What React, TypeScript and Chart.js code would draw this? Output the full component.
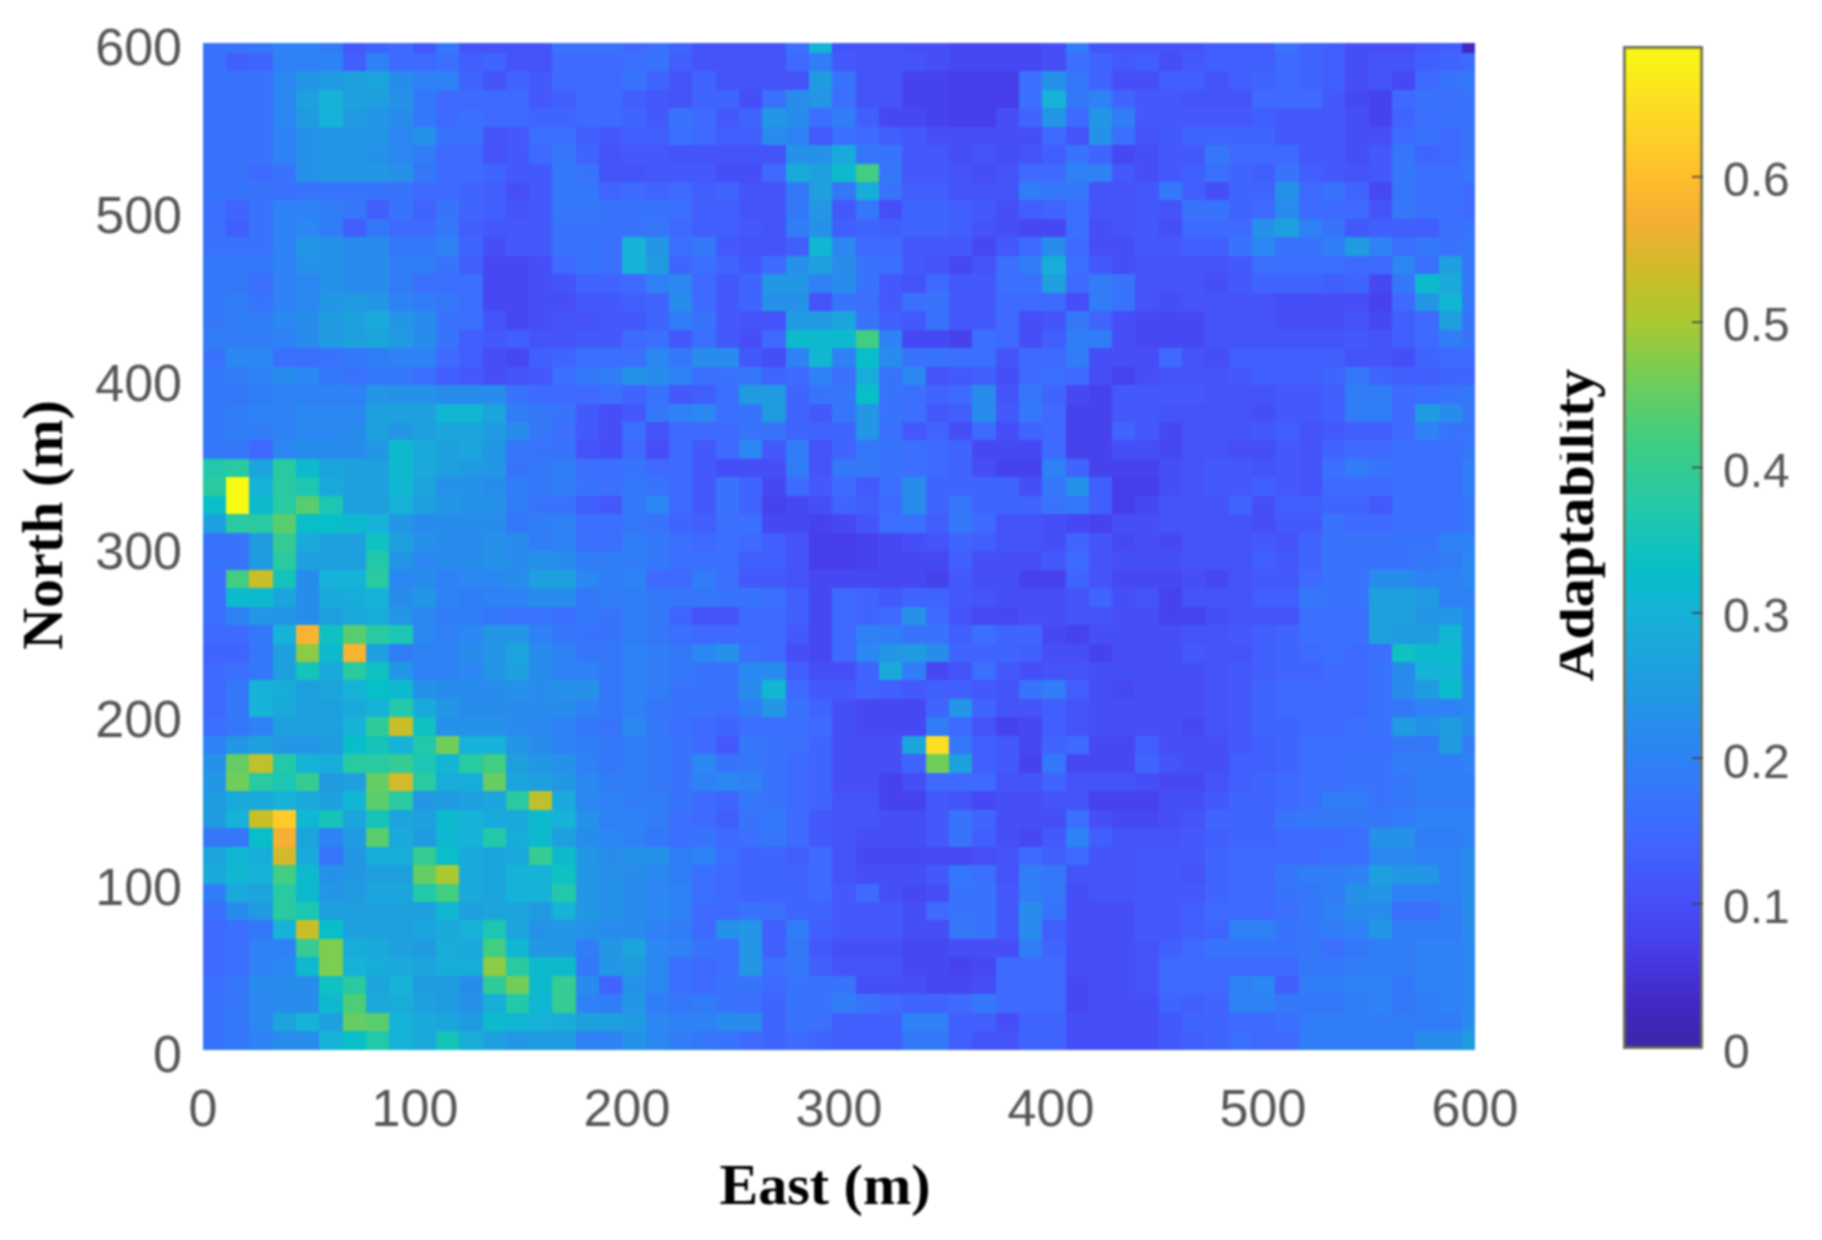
import React, { useEffect, useRef } from "react";
import { Chart, registerables } from "chart.js";

Chart.register(...registerables);

// Adaptability in hundredths; rows run north (top) to south, columns west to east.
const r00 = [17,17,18,20,20,19,12,14,15,12,18,11,11,11,11,17,17,17, 15,16,14,11,11,11,11,16,30,11,11,11,10,10,9,9,9,9,10, 19,11,11,11,11,11,13,13,13,17,14,13,10,10,10,12,13,3];
const r01 = [17,13,14,20,20,20,13,20,15,15,16,13,14,11,11,15,15,15, 16,17,13,11,11,11,11,15,19,12,11,11,11,10,9,9,9,9,10, 16,14,12,13,10,12,13,13,13,15,14,13,10,11,11,13,14,15];
const r02 = [17,17,17,21,24,25,26,27,22,20,20,14,11,14,12,15,15,15, 17,14,11,14,11,11,11,11,25,17,11,11,8,8,7,7,7,16,23, 18,14,10,10,13,13,11,13,14,15,14,13,10,11,9,15,17,18];
const r03 = [17,17,17,21,26,30,26,26,23,18,15,15,15,15,12,13,15,15, 13,12,11,14,14,10,16,22,24,16,11,11,8,8,7,7,7,16,30, 18,20,14,12,12,11,11,11,15,15,15,12,9,8,15,17,16,17];
const r04 = [17,17,17,21,25,30,25,24,22,18,15,16,15,15,14,14,15,15, 14,12,17,15,12,14,24,22,16,19,13,9,9,8,7,7,10,14,24, 15,24,19,12,12,12,12,12,13,12,12,12,10,8,14,16,17,17];
const r05 = [17,17,17,20,23,24,24,24,21,23,17,17,11,12,16,16,13,12, 13,13,16,15,13,13,22,20,12,16,15,13,12,10,10,10,10,10,15, 11,23,16,11,12,14,14,14,14,12,12,12,10,10,15,17,15,17];
const r06 = [17,17,17,20,23,24,24,23,21,19,15,15,11,12,15,18,14,11, 12,12,11,11,11,11,11,23,23,28,18,17,12,12,10,11,10,11,13, 17,14,9,10,12,12,18,15,15,15,12,12,10,12,18,14,15,17];
const r07 = [17,17,15,17,23,24,24,24,23,18,15,15,14,12,12,18,17,11, 11,12,12,12,10,10,15,28,26,32,42,18,12,12,11,10,11,15,15, 20,20,12,10,12,13,16,14,13,17,13,12,11,12,18,16,16,18];
const r08 = [17,17,17,16,17,17,17,17,17,15,15,14,13,10,12,18,18,14, 15,14,15,13,14,11,11,18,26,18,29,17,13,13,11,11,11,19,18, 18,11,11,12,18,13,10,14,14,23,15,17,14,9,18,16,16,15];
const r09 = [16,14,17,20,20,19,18,13,17,14,17,14,13,11,12,18,18,17, 17,17,16,13,13,11,11,18,24,12,18,10,14,14,13,12,10,13,14, 16,11,11,12,11,17,17,14,15,22,15,15,15,11,18,16,16,15];
const r10 = [16,13,17,20,21,19,13,18,15,15,18,13,12,12,12,17,17,17, 17,18,15,13,13,12,11,19,23,13,14,13,14,14,13,11,10,9,9, 16,10,11,12,10,15,15,15,23,26,20,17,12,13,13,13,16,17];
const r11 = [17,17,17,20,24,23,22,22,18,18,20,14,10,12,12,17,17,16, 30,24,16,18,12,11,11,13,31,21,15,15,12,12,12,9,12,15,22, 15,10,10,12,12,13,13,17,21,17,17,19,25,20,16,18,17,18];
const r12 = [18,18,18,20,23,23,22,22,19,19,17,13,9,9,10,15,17,16, 30,25,14,16,14,12,15,23,26,22,17,16,12,11,9,11,16,19,29, 16,12,10,11,11,11,11,12,16,16,16,16,15,15,21,16,26,18];
const r13 = [18,18,16,20,21,23,22,22,19,16,16,16,9,9,10,11,14,14, 15,20,21,15,12,14,24,24,20,22,17,12,11,15,12,12,16,16,26, 15,19,17,11,11,11,10,12,14,14,14,13,14,9,18,32,28,18];
const r14 = [18,19,17,20,21,24,25,24,20,19,18,16,9,9,10,10,12,12, 13,14,22,15,12,14,23,23,11,17,16,12,16,17,12,12,15,15,15, 10,19,17,11,10,11,11,11,11,10,10,10,10,8,15,24,31,18];
const r15 = [18,19,19,21,22,25,26,28,24,22,17,16,11,9,10,11,11,12, 12,14,19,17,12,11,11,25,25,27,17,13,12,17,12,12,15,10,11, 18,14,10,9,9,9,11,11,11,10,10,10,11,9,13,15,26,17];
const r16 = [19,19,19,20,22,25,26,27,25,22,17,13,12,13,11,11,12,12, 15,16,12,16,12,10,15,32,32,32,42,20,9,9,8,16,15,10,13, 19,19,10,9,9,9,11,11,11,11,11,11,12,11,13,15,19,17];
const r17 = [17,21,21,16,16,17,18,19,20,20,15,13,10,9,13,14,16,16, 16,21,18,22,22,12,10,20,31,20,33,22,17,17,16,16,11,15,15, 19,10,10,10,15,11,10,13,13,13,13,13,11,11,10,14,15,15];
const r18 = [18,19,20,22,21,18,17,18,18,16,13,12,10,11,12,16,18,19, 23,22,20,16,17,18,14,15,20,16,29,17,21,11,12,13,10,15,16, 15,10,8,10,11,11,11,12,13,13,13,14,18,14,13,13,14,14];
const r19 = [18,18,19,20,20,20,20,24,23,23,22,22,22,17,15,15,15,16, 14,17,12,13,16,25,25,14,17,18,33,17,16,14,15,22,11,18,14, 9,8,12,12,12,12,11,11,11,12,12,13,19,19,15,16,17,18];
const r20 = [18,19,20,20,21,21,21,26,26,26,31,31,27,19,18,17,12,10, 12,18,20,21,16,17,25,14,12,18,24,17,16,12,13,22,12,18,15, 8,8,12,12,11,11,11,11,10,12,12,13,19,19,15,25,22,18];
const r21 = [18,19,19,20,21,21,22,26,24,26,27,27,25,22,18,16,12,10, 16,11,15,15,15,17,17,14,14,14,24,16,12,14,10,15,10,14,15, 8,8,14,12,9,11,11,11,12,13,11,12,13,13,15,20,17,17];
const r22 = [18,18,15,21,22,22,22,24,32,28,26,27,24,18,17,17,11,10, 15,10,15,12,15,21,12,19,11,14,18,17,16,15,14,9,9,9,15, 8,8,10,10,9,11,11,10,10,12,11,14,15,15,16,16,16,18];
const r23 = [37,38,27,38,32,27,26,26,32,28,26,25,24,17,18,19,16,16, 17,15,15,12,10,10,10,19,11,18,18,17,16,15,14,10,8,8,20, 14,8,8,8,10,11,12,12,11,12,11,16,19,17,16,16,16,19];
const r24 = [38,69,30,38,36,28,26,26,31,27,23,23,22,19,18,19,17,16, 18,17,15,12,17,14,9,15,12,15,12,16,22,14,14,14,14,10,18, 23,13,7,7,10,11,12,12,13,12,11,15,15,15,16,16,16,19];
const r25 = [33,69,32,38,44,36,26,26,30,26,24,23,23,19,17,17,13,12, 18,21,15,12,17,14,8,9,10,14,13,15,22,14,18,14,14,14,17, 18,13,7,9,11,11,11,14,10,13,13,14,14,12,16,16,16,18];
const r26 = [26,38,38,44,33,33,32,30,24,22,22,22,22,18,19,20,16,16, 18,17,14,13,16,16,9,9,8,9,11,16,16,13,18,15,11,11,10, 9,8,10,10,11,11,11,11,10,12,12,17,15,15,16,16,16,18];
const r27 = [17,17,25,40,28,26,26,34,26,23,22,22,23,22,19,20,16,16, 19,18,16,15,16,15,13,11,7,7,8,9,10,11,14,13,11,11,10, 14,11,9,10,9,11,11,11,12,11,14,17,17,17,17,17,20,20];
const r28 = [17,17,25,38,26,26,26,37,24,21,22,22,23,22,23,22,19,19, 19,18,16,16,16,13,13,11,7,7,8,9,9,9,13,10,10,10,12, 15,11,10,10,10,11,11,11,13,12,14,17,17,17,17,18,19,21];
const r29 = [16,42,53,35,22,30,30,38,21,22,20,21,21,22,26,26,21,19, 20,15,15,19,16,12,12,11,9,9,9,9,9,8,12,10,10,8,8, 14,11,9,9,9,10,9,11,12,12,15,17,17,22,22,20,20,21];
const r30 = [16,32,32,27,22,28,29,30,22,24,20,19,20,20,22,22,18,19, 19,18,18,18,17,17,16,13,9,15,14,12,14,14,12,11,10,10,10, 11,14,10,11,8,11,11,11,13,13,18,17,17,26,26,25,20,20];
const r31 = [16,20,24,24,22,26,28,29,24,21,19,19,18,17,17,16,18,17, 19,18,14,11,11,15,15,13,9,15,14,15,23,15,11,9,9,10,10, 11,11,10,10,8,8,10,11,11,11,16,16,16,26,26,24,24,21];
const r32 = [15,15,18,30,58,34,44,38,36,21,20,21,24,24,20,18,17,17, 19,18,16,15,15,15,15,12,9,15,20,19,17,17,13,16,14,14,9, 8,10,10,10,10,11,11,12,13,14,16,16,16,26,25,25,31,21];
const r33 = [14,14,18,26,48,32,58,26,19,20,20,22,24,27,22,20,18,18, 20,19,18,21,23,16,15,10,9,15,21,24,25,22,14,14,14,13,10, 10,8,10,10,10,12,11,11,13,14,15,16,15,16,34,32,32,21];
const r34 = [15,16,18,26,35,28,38,34,24,20,20,21,24,26,22,20,20,18, 20,19,18,17,17,21,22,13,10,10,14,28,19,9,11,16,12,10,11, 11,10,10,10,10,10,11,12,13,14,14,15,15,17,22,30,31,20];
const r35 = [15,18,30,29,26,27,30,33,32,23,22,22,22,23,22,23,23,18, 20,19,17,17,17,22,31,15,12,12,14,13,12,13,13,12,11,17,19, 13,10,9,10,10,10,11,12,14,15,15,15,15,17,22,25,32,21];
const r36 = [15,18,30,28,26,26,28,30,37,28,24,22,22,22,22,22,20,18, 20,18,17,17,16,19,24,17,14,10,9,9,9,14,24,14,11,11,13, 11,10,10,10,10,10,11,12,14,15,15,15,15,17,18,20,20,21];
const r37 = [16,18,20,26,26,26,30,39,53,34,23,23,23,22,21,20,18,17, 21,18,16,15,14,16,16,16,15,10,9,9,9,19,15,11,8,9,13, 11,10,10,10,10,9,11,12,14,14,15,15,16,17,25,23,25,22];
const r38 = [20,24,26,24,24,25,33,35,30,37,46,30,30,24,22,20,19,18, 19,18,17,15,12,18,17,16,14,10,10,10,27,65,18,13,12,9,14, 15,9,9,13,10,10,10,12,13,14,16,16,16,16,18,18,25,19];
const r39 = [23,45,52,37,30,29,38,38,40,36,31,38,42,26,24,23,20,18, 19,18,17,21,17,18,17,15,14,10,10,10,14,46,26,13,12,8,18, 9,9,9,14,11,10,10,13,13,14,16,16,17,17,19,19,19,20];
const r40 = [24,46,38,36,40,25,26,45,54,38,29,29,45,27,26,24,21,19, 19,18,17,20,21,20,17,15,14,10,10,8,10,15,15,15,11,11,14, 11,11,11,10,9,9,11,13,14,15,16,16,17,17,18,19,19,19];
const r41 = [25,28,28,30,28,26,31,44,38,24,25,26,27,38,52,28,21,20, 19,19,17,15,14,18,17,15,14,11,11,8,8,12,11,9,10,10,11, 11,8,8,8,10,10,12,14,14,15,16,19,19,17,18,19,19,19];
const r42 = [25,30,53,62,31,35,27,35,27,26,32,30,28,28,32,30,23,20, 20,19,16,15,13,17,18,15,12,11,11,10,10,12,17,14,10,10,10, 16,10,9,9,10,11,14,14,14,17,18,18,18,18,19,20,20,20];
const r43 = [18,18,33,57,27,20,25,44,28,25,31,30,37,29,32,26,22,21, 20,18,16,17,15,16,18,15,12,11,10,10,10,12,17,13,10,9,12, 20,13,11,11,11,12,13,14,14,15,15,15,16,23,23,19,19,20];
const r44 = [27,31,29,54,28,17,24,29,29,40,33,28,27,28,40,32,24,22, 23,23,19,20,16,14,14,13,15,11,9,9,9,9,9,10,11,15,13, 15,11,11,12,12,12,14,15,15,15,15,16,16,21,21,20,20,22];
const r45 = [28,31,30,42,32,23,24,26,26,45,50,28,27,30,30,34,24,23, 22,21,19,16,15,14,14,14,15,11,10,10,10,12,18,16,11,19,18, 11,11,11,12,12,11,14,15,15,18,19,19,20,26,24,24,20,22];
const r46 = [19,28,27,38,32,24,25,27,27,37,42,28,27,30,30,37,24,23, 22,21,20,16,15,14,14,14,15,12,15,10,9,10,17,17,12,19,18, 10,11,11,12,12,12,14,15,15,17,18,19,23,24,20,20,20,22];
const r47 = [16,22,25,38,36,26,26,26,26,26,31,26,27,27,25,30,24,23, 22,21,20,15,15,17,16,14,14,12,12,12,10,15,17,17,12,22,17, 10,10,10,12,12,13,15,15,15,16,18,20,22,22,16,16,19,22];
const r48 = [15,16,18,30,53,33,26,26,26,27,28,30,36,27,23,24,23,22, 22,20,19,15,23,24,13,19,13,12,12,12,10,10,18,17,12,22,13, 10,10,10,12,12,13,14,20,20,17,18,19,20,24,19,19,19,22];
const r49 = [15,16,20,20,40,47,29,28,26,25,29,28,42,31,24,24,19,24, 27,21,20,17,16,24,13,18,12,10,10,10,9,9,10,10,10,19,14, 10,10,10,11,13,15,17,17,17,17,18,16,18,19,19,20,20,21];
const r50 = [15,16,20,21,32,47,30,29,28,27,29,29,48,38,32,32,18,24, 25,21,16,15,16,24,16,18,13,11,11,11,9,9,8,9,15,15,15, 10,10,10,11,15,15,15,15,15,15,18,18,19,19,19,20,20,21];
const r51 = [16,18,22,22,22,34,38,27,30,25,25,22,39,46,32,40,22,14, 23,21,16,15,17,17,15,17,17,17,10,10,10,9,9,10,15,15,15, 9,10,10,11,15,15,15,20,21,13,19,19,20,20,18,20,20,21];
const r52 = [17,18,21,22,22,32,43,28,29,26,25,23,29,37,31,40,20,19, 24,19,18,19,17,16,14,17,17,19,17,15,14,14,15,18,15,15,15, 9,10,10,10,14,13,14,20,20,18,18,18,19,20,18,19,20,21];
const r53 = [17,18,21,27,30,26,45,44,30,28,27,25,32,31,30,29,26,26, 25,21,20,20,22,22,14,17,16,13,13,13,20,20,13,13,10,14,14, 10,10,10,10,12,14,14,15,15,16,19,19,19,19,19,19,19,22];
const r54 = [17,18,20,22,22,30,33,37,30,28,35,29,26,24,25,25,20,20, 23,21,19,18,17,15,14,15,14,13,13,13,18,18,13,11,11,14,14, 10,10,10,10,12,13,14,16,15,15,19,19,19,19,19,22,22,25];

const heatRows = [r00,r01,r02,r03,r04,r05,r06,r07,r08,r09,r10,r11,r12,r13,r14,r15,r16,r17,r18,r19,r20,r21,r22,r23,r24,r25,r26,r27,r28,r29,r30,r31,r32,r33,r34,r35,r36,r37,r38,r39,r40,r41,r42,r43,r44,r45,r46,r47,r48,r49,r50,r51,r52,r53,r54];

const cellMetres = 11;
const axisMax = 600;
const colourMax = 0.69;
const colourTicks = [0.1, 0.2, 0.3, 0.4, 0.5, 0.6];

const mapValues = [0, 0.03, 0.07, 0.1, 0.15, 0.2, 0.25, 0.3, 0.33, 0.37, 0.42, 0.47, 0.5, 0.53, 0.57, 0.6, 0.65, 0.69];
const mapColours = [
  [60, 38, 165], [66, 40, 195], [70, 62, 232], [70, 78, 248], [62, 106, 255], [46, 130, 245], [32, 155, 225],
  [22, 178, 215], [8, 190, 200], [35, 200, 170], [65, 205, 130], [125, 205, 80], [170, 200, 50],
  [200, 190, 40], [245, 175, 50], [255, 190, 45], [252, 222, 35], [248, 250, 20],
];

function colourOf(v: number): string {
  let i = 0;
  while (i < mapValues.length - 2 && v > mapValues[i + 1]) i++;
  const t = Math.min(1, Math.max(0, (v - mapValues[i]) / (mapValues[i + 1] - mapValues[i])));
  const c = mapColours[i].map((a, k) => Math.round(a + (mapColours[i + 1][k] - a) * t));
  return `rgb(${c[0]},${c[1]},${c[2]})`;
}

const cellSprites = new Map<number, HTMLCanvasElement>();
function spriteOf(hundredths: number): HTMLCanvasElement {
  let s = cellSprites.get(hundredths);
  if (!s) {
    s = document.createElement("canvas");
    s.width = 24;
    s.height = 19;
    const g = s.getContext("2d")!;
    g.fillStyle = colourOf(hundredths / 100);
    g.fillRect(0, 0, 24, 19);
    cellSprites.set(hundredths, s);
  }
  return s;
}

const sansFont = "'Liberation Sans', Arial, sans-serif";
const serifFont = "'Liberation Serif', 'Times New Roman', serif";
const tickGrey = "#555555";

function caption(chart: Chart, text: string, x: number, y: number, rot: number) {
  const g = chart.ctx;
  g.save();
  g.translate(x, y);
  g.rotate(rot);
  g.font = `bold 58px ${serifFont}`;
  g.fillStyle = "#000";
  g.textAlign = "center";
  g.textBaseline = "middle";
  g.fillText(text, 0, 0);
  g.restore();
}

export default function App() {
  const mapRef = useRef<HTMLCanvasElement>(null);
  const barRef = useRef<HTMLCanvasElement>(null);

  useEffect(() => {
    const cells: { x: number; y: number; v: number }[] = [];
    heatRows.forEach((row, t) => {
      const k = heatRows.length - 1 - t;
      row.forEach((v, c) => {
        cells.push({ x: (c + 0.5) * cellMetres, y: (k + 0.5) * cellMetres, v });
      });
    });

    const map = new Chart(mapRef.current!, {
      type: "scatter",
      data: {
        datasets: [
          {
            data: cells as any,
            showLine: false,
            clip: 0 as any,
            pointRadius: 12,
            pointStyle: (ctx: any) => spriteOf(ctx.raw ? ctx.raw.v : 0),
          } as any,
        ],
      },
      options: {
        responsive: false,
        animation: false,
        events: [],
        layout: { padding: { left: 0, top: 43, right: 85, bottom: 0 } },
        plugins: { legend: { display: false }, tooltip: { enabled: false }, title: { display: false } },
        scales: {
          x: {
            type: "linear",
            min: 0,
            max: axisMax,
            afterFit: (s: any) => { s.height = 190; s.paddingLeft = 0; s.paddingRight = 0; },
            grid: { display: false, drawTicks: false },
            border: { display: false },
            ticks: { stepSize: 100, maxRotation: 0, padding: 30, color: tickGrey, font: { family: sansFont, size: 52 } },
          },
          y: {
            type: "linear",
            min: 0,
            max: axisMax,
            afterFit: (s: any) => { s.width = 203; s.paddingTop = 0; s.paddingBottom = 0; },
            grid: { display: false, drawTicks: false },
            border: { display: false },
            ticks: { stepSize: 100, padding: 21, labelOffset: 8, color: tickGrey, font: { family: sansFont, size: 52 } },
          },
        },
      },
      plugins: [
        {
          id: "axisCaptions",
          afterDraw(chart: Chart) {
            caption(chart, "North (m)", 47, 525, -Math.PI / 2);
            caption(chart, "East (m)", 825, 1189, 0);
          },
        },
      ],
    });

    const bar = new Chart(barRef.current!, {
      type: "bar",
      data: {
        labels: [""],
        datasets: [
          {
            data: [[0, colourMax]] as any,
            barPercentage: 1,
            categoryPercentage: 1,
            borderColor: "#6e6e58",
            borderWidth: 3,
            borderSkipped: false,
            backgroundColor: (ctx: any) => {
              const area = ctx.chart.chartArea;
              if (!area) return "#2f80f5";
              const g = ctx.chart.ctx.createLinearGradient(0, area.bottom, 0, area.top);
              for (let i = 0; i < mapValues.length; i++) {
                g.addColorStop(mapValues[i] / colourMax, colourOf(mapValues[i]));
              }
              return g;
            },
          } as any,
        ],
      },
      options: {
        responsive: false,
        animation: false,
        events: [],
        layout: { padding: { left: 63, top: 46, right: 0, bottom: 191 } },
        plugins: { legend: { display: false }, tooltip: { enabled: false } },
        scales: {
          x: { display: false },
          y: {
            position: "right",
            min: 0,
            max: colourMax,
            afterFit: (s: any) => { s.width = 119; s.paddingTop = 0; s.paddingBottom = 0; },
            grid: { display: false, drawTicks: false },
            border: { display: false },
            ticks: {
              stepSize: 0.1,
              includeBounds: false,
              padding: 20,
              labelOffset: 6,
              color: tickGrey,
              font: { family: sansFont, size: 48 },
              callback: (v: any) => (Number(v) === 0 ? "0" : Number(v).toFixed(1)),
            },
          },
        },
      },
      plugins: [
        {
          id: "colourTicksAndCaption",
          afterDraw(chart: Chart) {
            const g = chart.ctx;
            const area = chart.chartArea;
            const scale = chart.scales.y;
            g.save();
            g.strokeStyle = "#3c3c3c";
            g.lineWidth = 1.5;
            colourTicks.forEach((v) => {
              const y = scale.getPixelForValue(v);
              g.beginPath();
              g.moveTo(area.right - 11, y);
              g.lineTo(area.right, y);
              g.stroke();
            });
            g.restore();
            caption(chart, "Adaptability", 18, 525, -Math.PI / 2);
          },
        },
      ],
    });

    return () => {
      map.destroy();
      bar.destroy();
    };
  }, []);

  return (
    <div style={{ position: "absolute", left: 0, top: 0, width: 1822, height: 1240, overflow: "hidden", background: "#fff" }}>
      <canvas ref={mapRef} width={1560} height={1240} style={{ position: "absolute", left: 0, top: 0, width: 1560, height: 1240, filter: "blur(1.1px)" }} />
      <canvas ref={barRef} width={262} height={1240} style={{ position: "absolute", left: 1560, top: 0, width: 262, height: 1240, filter: "blur(1.1px)" }} />
    </div>
  );
}
